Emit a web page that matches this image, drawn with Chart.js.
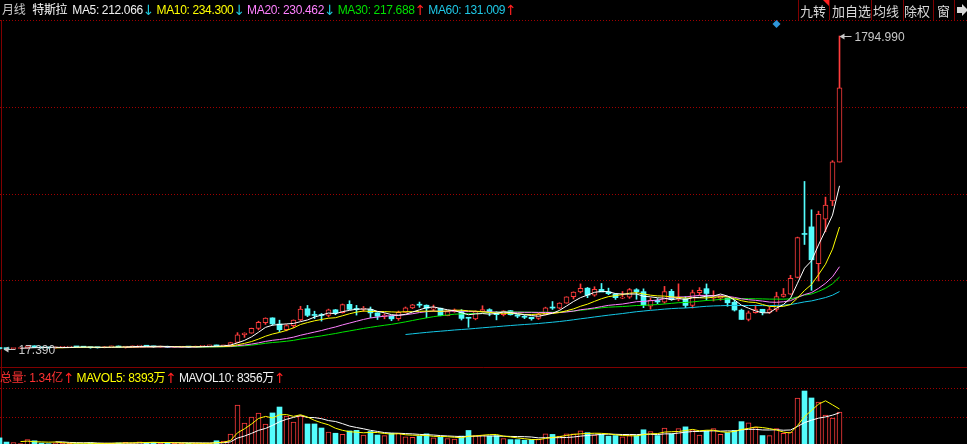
<!DOCTYPE html>
<html>
<head>
<meta charset="utf-8">
<script src="https://cdn.jsdelivr.net/npm/chart.js@4/dist/chart.umd.min.js"></script>
<style>
  body { margin: 0; background: #000; width: 967px; height: 444px; overflow: hidden; position: relative; }
  canvas { position: absolute; left: 0; }
  #main { top: 0; }
  #vol { top: 367px; }
  .row { position: absolute; left: 2px; white-space: nowrap; font: 12px Arial, "Liberation Sans", "Noto Sans CJK SC", sans-serif; line-height: 14px; letter-spacing: -0.35px; }
  .row > span { margin-right: 2px; }
  .a { display: inline-block; vertical-align: top; margin-left: 0; font: 14px "DejaVu Sans", sans-serif; line-height: 15px; letter-spacing: 0; }
  .dn { color: #1ec8dc; }
  .up { color: #ff2020; }
  .b { position: absolute; top: 3px; white-space: nowrap; font: 13px "Noto Sans CJK SC", sans-serif; line-height: 15px; color: #d8d8d8; }
  .sep { position: absolute; top: 0; width: 1px; height: 20px; background: #800000; }
</style>
</head>
<body>
<canvas id="main" width="967" height="367"></canvas>
<canvas id="vol" width="967" height="79"></canvas>

<!-- price panel header -->
<div class="row" style="top:3px">
  <span style="color:#c8c8c8;margin-right:7px">月线</span><span style="color:#fff;margin-right:5px">特斯拉</span><span style="color:#f0f0f0">MA5: 212.066<span class="a dn">↓</span></span><span style="color:#ffff00">MA10: 234.300<span class="a dn">↓</span></span><span style="color:#ff80ff">MA20: 230.462<span class="a dn">↓</span></span><span style="color:#00e000">MA30: 217.688<span class="a up">↑</span></span><span style="color:#1ec8e6">MA60: 131.009<span class="a up">↑</span></span>
</div>

<!-- buttons -->
<div class="sep" style="left:798px"></div>
<span class="b" style="left:800px">九转</span>
<div style="position:absolute;left:823px;top:0;width:0;height:0;border-top:6px solid #ff2020;border-left:6px solid transparent"></div>
<div class="sep" style="left:829px"></div>
<span class="b" style="left:832px">加自选</span>
<div class="sep" style="left:871px"></div>
<span class="b" style="left:873px">均线</span>
<div class="sep" style="left:903px"></div>
<span class="b" style="left:904px">除权</span>
<div class="sep" style="left:933px"></div>
<span class="b" style="left:937px">窗</span>
<div class="sep" style="left:954px"></div>
<div style="position:absolute;left:957px;top:7px;width:5px;height:6px;background:#d8d8d8"></div>
<div style="position:absolute;left:962px;top:4px;width:0;height:0;border-top:6px solid transparent;border-bottom:6px solid transparent;border-left:6px solid #d8d8d8"></div>

<!-- volume panel header -->
<div class="row" style="top:371px;left:0">
  <span style="color:#ff3232">总量: 1.34亿<span class="a up">↑</span></span><span style="color:#ffff00">MAVOL5: 8393万<span class="a up">↑</span></span><span style="color:#f0f0f0">MAVOL10: 8356万<span class="a up">↑</span></span>
</div>

<script>
// monthly candles, Jun 2010 .. Jul 2020
const firstYear = 2010, firstMonth = 6;

const open = [
  19.0, 25.0, 20.0, 19.7, 20.5, 21.9, 35.5,
  26.8, 24.2, 23.9, 26.7, 27.8, 30.2, 28.9, 27.8, 24.5, 24.3, 29.1, 32.3,
  28.9, 29.4, 33.7, 37.2, 33.1, 29.0, 31.3, 27.4, 28.5, 29.3, 28.4, 32.5,
  35.0, 37.6, 35.0, 38.0, 54.5, 98.4, 108.0, 134.9, 167.0, 194.0, 159.3, 127.0,
  150.0, 182.0, 246.0, 209.0, 208.0, 208.0, 240.0, 224.0, 271.0, 243.0, 243.0, 243.0,
  223.0, 203.0, 203.0, 189.0, 225.0, 251.0, 268.0, 266.0, 244.0, 249.0, 207.0, 231.0,
  230.0, 196.0, 188.0, 231.0, 241.0, 223.0, 212.0, 235.0, 212.0, 203.0, 198.0, 191.0,
  214.0, 253.0, 250.0, 278.0, 314.0, 341.0, 363.0, 323.0, 356.0, 342.0, 330.0, 306.0,
  312.0, 354.0, 343.0, 260.0, 293.0, 283.0, 345.0, 300.0, 303.0, 265.0, 338.0, 360.0,
  306.0, 306.0, 306.0, 283.0, 238.0, 185.0, 224.0, 243.0, 225.0, 242.0, 316.0, 329.0,
  424.0, 673.0, 711.0, 502.0, 755.0, 858.0, 1079.0
];
const high = [
  25.0, 25.9, 21.0, 22.0, 22.3, 36.4, 35.9,
  28.0, 25.5, 28.2, 28.6, 30.9, 30.5, 30.3, 28.0, 28.0, 31.6, 34.4, 34.8,
  29.9, 35.0, 38.0, 37.5, 34.0, 34.0, 33.9, 30.9, 30.2, 30.0, 33.9, 35.4,
  39.1, 39.9, 39.0, 55.9, 110.3, 109.4, 136.0, 175.2, 194.5, 194.6, 181.0, 156.0,
  183.0, 260.0, 265.0, 232.0, 219.0, 244.0, 242.0, 273.0, 291.4, 265.0, 259.0, 256.0,
  223.0, 218.0, 206.0, 233.0, 256.0, 271.0, 284.0, 268.0, 267.0, 250.0, 232.0, 245.0,
  241.0, 197.0, 234.0, 263.0, 246.0, 230.0, 235.0, 236.0, 213.0, 208.0, 198.0, 220.0,
  255.0, 287.0, 280.0, 314.0, 342.0, 387.0, 367.0, 371.0, 389.6, 363.0, 332.0, 344.0,
  361.0, 360.0, 359.0, 307.0, 304.0, 373.0, 356.0, 387.5, 315.0, 352.0, 366.0, 387.0,
  348.0, 320.0, 307.0, 296.0, 244.0, 233.0, 267.0, 243.0, 256.0, 340.0, 361.0, 436.0,
  653.0, 969.0, 808.0, 800.0, 880.0, 1087.0, 1794.99
];
const low = [
  17.54, 14.98, 17.39, 18.9, 20.0, 21.6, 26.1,
  22.7, 21.7, 21.6, 24.0, 26.5, 26.0, 26.8, 21.8, 22.6, 24.0, 29.0, 28.1,
  22.6, 28.6, 32.0, 31.0, 26.0, 27.5, 25.5, 26.4, 26.9, 26.5, 27.4, 32.0,
  33.6, 32.0, 33.5, 36.8, 52.7, 83.5, 106.8, 125.8, 157.0, 152.0, 116.1, 120.4,
  138.0, 178.0, 201.0, 190.0, 176.0, 200.0, 212.0, 221.0, 241.0, 210.0, 231.0, 196.0,
  185.0, 189.0, 178.0, 180.0, 225.0, 247.0, 254.0, 195.0, 233.0, 206.0, 206.0, 226.0,
  182.0, 141.05, 183.0, 225.0, 206.0, 183.0, 205.0, 210.0, 195.0, 190.0, 181.0, 185.0,
  211.0, 242.0, 245.0, 277.0, 302.0, 336.0, 309.0, 317.0, 343.0, 326.0, 299.0, 303.0,
  305.0, 300.0, 252.0, 244.0, 275.0, 277.0, 294.0, 291.0, 252.0, 250.0, 326.0, 295.0,
  290.0, 294.0, 260.0, 233.0, 185.0, 177.0, 221.0, 211.0, 219.0, 231.0, 312.0, 327.0,
  421.0, 611.0, 350.5, 404.0, 683.0, 831.0, 1079.0
];
const close = [
  23.83, 19.94, 19.48, 20.41, 21.84, 35.33, 26.63,
  24.10, 23.89, 26.68, 27.71, 30.39, 29.13, 27.71, 24.74, 24.39, 29.19, 32.31, 28.56,
  29.07, 33.60, 37.24, 33.08, 29.50, 31.29, 27.20, 28.50, 29.28, 28.13, 32.35, 33.87,
  37.51, 34.84, 37.89, 53.99, 97.76, 107.36, 134.28, 168.76, 193.37, 159.94, 127.28, 150.43,
  181.41, 244.81, 208.45, 207.89, 207.77, 240.06, 223.30, 269.70, 242.68, 241.70, 244.52, 222.41,
  203.60, 203.34, 188.77, 226.05, 250.80, 268.26, 266.15, 249.06, 248.40, 206.93, 230.26, 240.01,
  191.20, 191.93, 229.77, 240.76, 223.23, 212.28, 234.79, 212.01, 204.03, 197.73, 189.40, 213.69,
  251.93, 249.99, 278.30, 314.07, 341.01, 361.61, 323.47, 355.90, 341.10, 331.53, 308.85, 311.35,
  354.31, 343.06, 266.13, 293.90, 284.73, 342.95, 298.14, 301.66, 264.77, 337.32, 350.48, 332.80,
  307.02, 319.88, 279.86, 238.69, 185.16, 223.46, 241.61, 225.61, 240.87, 314.92, 329.94, 418.33,
  650.57, 667.99, 524.00, 781.88, 835.00, 1079.81, 1500.00
];
// volume in 万 shares
const volume = [
  3600, 7000, 3400, 3000, 2000, 5500, 4500,
  2500, 2000, 2800, 2600, 2400, 2000, 1800, 2800, 2200, 2500, 2400, 2600,
  3200, 2800, 3500, 3000, 3200, 2600, 2800, 2200, 2200, 2300, 2600, 2200,
  2600, 4500, 4200, 10300, 35300, 19800, 25000, 28400, 19000, 28500, 33600, 25900,
  20700, 25900, 19000, 19000, 15500, 12000, 11000, 10000, 13000, 13500, 9500, 12500,
  9500, 9000, 11000, 11000, 8000, 7500, 8500, 10500, 7095, 7500, 6500, 6000,
  8565, 13400, 9000, 9500, 8500, 9000, 6500, 5500, 5500, 5000, 5500, 6000,
  10500, 10000, 8500, 10500, 10500, 13000, 11500, 9500, 10000, 8500, 9000, 8000,
  9000, 9000, 14000, 12500, 9000, 15500, 10500, 15000, 16500, 14000, 9500, 13000,
  15000, 10000, 11500, 13500, 21000, 20000, 16000, 9000, 9000, 15000, 11000, 12000,
  41400, 47400, 41400, 37900, 26700, 24100, 29300
];
const signalIdx = [112];
const firstVisible = 2;

const months = close.map((_, i) => {
  const m = firstMonth - 1 + i;
  return `${firstYear + Math.floor(m / 12)}-${String(m % 12 + 1).padStart(2, '0')}`;
});

const UP = '#ff3c3c', DOWN = '#54fcfc', GRID = '#a00000', FRAME = '#800000';
const isUp = i => close[i] >= open[i];

function movingAvg(src, n) {
  return src.map((_, i) => {
    if (i < n - 1) return null;
    let s = 0;
    for (let k = i - n + 1; k <= i; k++) s += src[k];
    return s / n;
  });
}
const pts = arr => arr.map((v, i) => ({ x: i, y: v }));

// same slot width (7px) for both panels
const xMin = 1.0714, slot = 7;
const xAxis = { type: 'linear', display: false, offset: false, grid: { offset: false },
                min: xMin, max: xMin + 967 / slot };

function maLine(n, color, src) {
  return { type: 'line', data: pts(movingAvg(src, n)), borderColor: color, borderWidth: 1,
           pointRadius: 0, tension: 0, spanGaps: false, order: 0 };
}

function dotted(ctx, y, x0, x1) {
  ctx.save();
  ctx.strokeStyle = GRID; ctx.lineWidth = 1; ctx.setLineDash([1, 2]);
  ctx.beginPath(); ctx.moveTo(x0, y); ctx.lineTo(x1, y); ctx.stroke();
  ctx.restore();
}

const priceFrame = {
  id: 'priceFrame',
  beforeDatasetsDraw(chart) {
    const { ctx, chartArea: a, scales: { y } } = chart;
    const step = (y.max - y.min) / 4;
    for (let k = 1; k <= 4; k++) dotted(ctx, Math.round(y.getPixelForValue(y.min + k * step)) + 0.5, 0, chart.width);
    ctx.save();
    ctx.strokeStyle = FRAME; ctx.lineWidth = 1;
    ctx.beginPath(); ctx.moveTo(1.5, a.top); ctx.lineTo(1.5, a.bottom); ctx.stroke();
    ctx.restore();
  },
  afterDatasetsDraw(chart) {
    const { ctx, scales: { x, y } } = chart;
    let hi = firstVisible, lo = firstVisible;
    for (let i = firstVisible; i < close.length; i++) {
      if (high[i] > high[hi]) hi = i;
      if (low[i] < low[lo]) lo = i;
    }
    ctx.save();
    ctx.font = '12px Arial, "Liberation Sans", sans-serif';
    ctx.textBaseline = 'middle';
    ctx.fillStyle = '#c8c8c8'; ctx.strokeStyle = '#c8c8c8'; ctx.lineWidth = 1;
    const mark = (v, tipX) => {
      const py = Math.round(y.getPixelForValue(v)) + 0.5;
      ctx.beginPath(); ctx.moveTo(tipX + 1, py); ctx.lineTo(tipX + 12, py); ctx.stroke();
      ctx.beginPath(); ctx.moveTo(tipX, py); ctx.lineTo(tipX + 5, py - 3); ctx.lineTo(tipX + 5, py + 3); ctx.closePath(); ctx.fill();
      ctx.fillText(v.toFixed(3), tipX + 15, py + 1);
    };
    mark(high[hi], x.getPixelForValue(hi));
    mark(low[lo], x.getPixelForValue(lo) - 3);
    // signal marker
    ctx.fillStyle = '#2f95d8';
    signalIdx.forEach(i => {
      const px = x.getPixelForValue(i), py = chart.chartArea.top + 4;
      ctx.beginPath(); ctx.moveTo(px, py - 4); ctx.lineTo(px + 4, py); ctx.lineTo(px, py + 4); ctx.lineTo(px - 4, py); ctx.closePath(); ctx.fill();
    });
    ctx.restore();
  }
};

const volFrame = {
  id: 'volFrame',
  beforeDatasetsDraw(chart) {
    const { ctx, scales: { y } } = chart;
    [25000, 50000].forEach(v => dotted(ctx, Math.round(y.getPixelForValue(v)) + 0.5, 0, chart.width));
    ctx.save();
    ctx.strokeStyle = FRAME; ctx.lineWidth = 1;
    ctx.beginPath(); ctx.moveTo(0, 0.5); ctx.lineTo(chart.width, 0.5); ctx.stroke();
    ctx.beginPath(); ctx.moveTo(1.5, 0); ctx.lineTo(1.5, chart.height); ctx.stroke();
    ctx.restore();
  }
};

const common = {
  responsive: false, animation: false, devicePixelRatio: 1, events: [],
  plugins: { legend: { display: false }, tooltip: { enabled: false } }
};

new Chart(document.getElementById('main'), {
  type: 'bar',
  data: {
    labels: months,
    datasets: [
      maLine(5, '#ffffff', close),
      maLine(10, '#ffff00', close),
      maLine(20, '#ff80ff', close),
      maLine(30, '#00e600', close),
      maLine(60, '#14c8e6', close),
      {
        data: close.map((c, i) => ({ x: i, y: [open[i], c] })),
        backgroundColor: ctx => isUp(ctx.dataIndex) ? '#000' : DOWN,
        borderColor: ctx => isUp(ctx.dataIndex) ? UP : DOWN,
        borderWidth: ctx => isUp(ctx.dataIndex) ? 1 : 0,
        borderSkipped: false, barThickness: 5, minBarLength: 1, grouped: false, order: 1
      },
      {
        data: close.map((_, i) => ({ x: i, y: [low[i], high[i]] })),
        backgroundColor: ctx => isUp(ctx.dataIndex) ? UP : DOWN,
        borderWidth: 0, barThickness: 1, grouped: false, order: 2
      }
    ]
  },
  options: {
    ...common,
    layout: { padding: { top: 20, left: 0, right: 0, bottom: 0 } },
    scales: { x: xAxis, y: { type: 'linear', display: false, min: -84.8, max: 1885.9 } }
  },
  plugins: [priceFrame]
});

new Chart(document.getElementById('vol'), {
  type: 'bar',
  data: {
    labels: months,
    datasets: [
      maLine(5, '#ffff00', volume),
      maLine(10, '#ffffff', volume),
      {
        data: pts(volume),
        backgroundColor: ctx => isUp(ctx.dataIndex) ? '#000' : DOWN,
        borderColor: ctx => isUp(ctx.dataIndex) ? UP : DOWN,
        borderWidth: ctx => isUp(ctx.dataIndex) ? 1 : 0,
        borderSkipped: false, barThickness: 5, grouped: false, order: 1
      }
    ]
  },
  options: {
    ...common,
    layout: { padding: 0 },
    scales: { x: xAxis, y: { type: 'linear', display: false, min: 0, max: 68103 } }
  },
  plugins: [volFrame]
});
</script>
</body>
</html>
